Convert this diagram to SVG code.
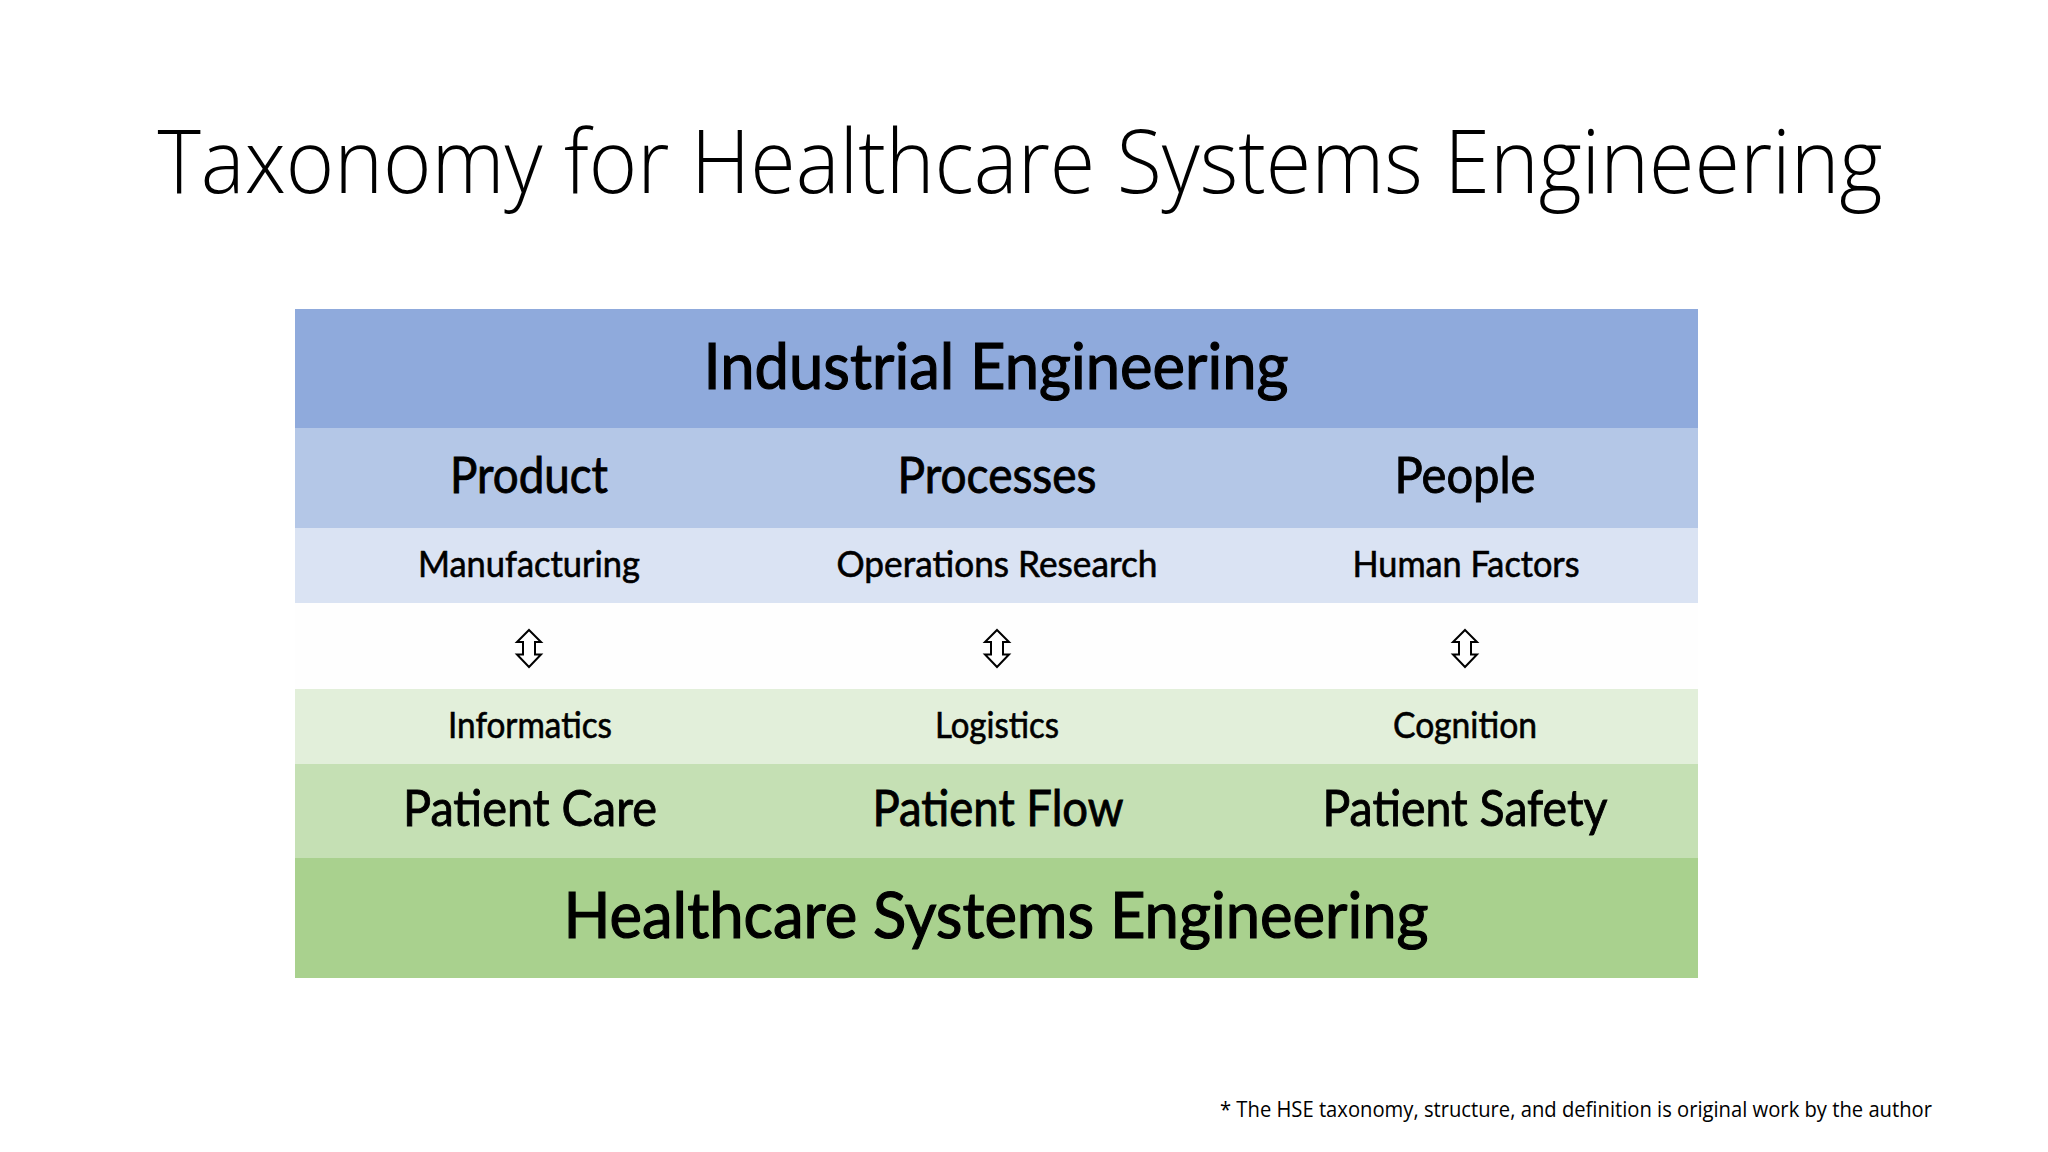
<svg xmlns="http://www.w3.org/2000/svg" width="2048" height="1152" viewBox="0 0 2048 1152">
<style>
.t{font-family:Lato,"DejaVu Sans",sans-serif;fill:#000;stroke:#000;stroke-width:0.9;text-anchor:middle}
.h1{font-size:64px;stroke-width:1.2}
.h2{font-size:50px}
.h3{font-size:36px;stroke-width:0.6}
.title{font-family:"Open Sans","Liberation Sans",sans-serif;font-weight:300;font-size:88px;fill:#000;text-anchor:middle}
.note{font-family:"Open Sans","Liberation Sans",sans-serif;font-size:22px;fill:#000}
.arr{fill:#fff;stroke:#000;stroke-width:2;stroke-linejoin:miter}
</style>
<defs>
<path id="ud" class="arr" d="M0,-18.5 L12,-6.5 L6,-6.5 L6,6 L12,6 L0,18.5 L-12,6 L-6,6 L-6,-6.5 L-12,-6.5 Z"/>
</defs>
<rect width="2048" height="1152" fill="#fff"/>
<text class="title" x="1020" y="193" textLength="1725" lengthAdjust="spacingAndGlyphs">Taxonomy for Healthcare Systems Engineering</text>

<g id="industrial-engineering">
<rect x="295" y="309" width="1403" height="119" fill="#8faadc"/>
<text class="t h1" x="996" y="389" textLength="585" lengthAdjust="spacingAndGlyphs">Industrial Engineering</text>
</g>
<g id="row-ie-pillars">
<rect x="295" y="428" width="1403" height="100" fill="#b4c7e7"/>
<g id="product"><text class="t h2" x="529" y="493" textLength="158" lengthAdjust="spacingAndGlyphs">Product</text></g>
<g id="processes"><text class="t h2" x="997" y="493" textLength="199" lengthAdjust="spacingAndGlyphs">Processes</text></g>
<g id="people"><text class="t h2" x="1465" y="493" textLength="141" lengthAdjust="spacingAndGlyphs">People</text></g>
</g>
<g id="row-ie-disciplines">
<rect x="295" y="528" width="1403" height="75" fill="#dae3f3"/>
<g id="manufacturing"><text class="t h3" x="529" y="577" textLength="222" lengthAdjust="spacingAndGlyphs">Manufacturing</text></g>
<g id="operations-research"><text class="t h3" x="997" y="577" textLength="321" lengthAdjust="spacingAndGlyphs">Operations Research</text></g>
<g id="human-factors"><text class="t h3" x="1466" y="577" textLength="227" lengthAdjust="spacingAndGlyphs">Human Factors</text></g>
</g>
<rect x="295" y="603" width="1403" height="86" fill="#fefefe"/>
<g id="connectors">
<use href="#ud" x="529" y="648.5"/>
<use href="#ud" x="997" y="648.5"/>
<use href="#ud" x="1465" y="648.5"/>
</g>
<g id="row-hse-disciplines">
<rect x="295" y="689" width="1403" height="75" fill="#e2efda"/>
<g id="informatics"><text class="t h3" x="530" y="738" textLength="164" lengthAdjust="spacingAndGlyphs">Informatics</text></g>
<g id="logistics"><text class="t h3" x="997" y="738" textLength="124" lengthAdjust="spacingAndGlyphs">Logistics</text></g>
<g id="cognition"><text class="t h3" x="1465" y="738" textLength="144" lengthAdjust="spacingAndGlyphs">Cognition</text></g>
</g>
<g id="row-hse-pillars">
<rect x="295" y="764" width="1403" height="94" fill="#c5e0b4"/>
<g id="patient-care"><text class="t h2" x="530" y="826" textLength="254" lengthAdjust="spacingAndGlyphs">Patient Care</text></g>
<g id="patient-flow"><text class="t h2" x="998" y="826" textLength="251" lengthAdjust="spacingAndGlyphs">Patient Flow</text></g>
<g id="patient-safety"><text class="t h2" x="1465" y="826" textLength="285" lengthAdjust="spacingAndGlyphs">Patient Safety</text></g>
</g>
<g id="healthcare-systems-engineering">
<rect x="295" y="858" width="1403" height="120" fill="#a9d18e"/>
<text class="t h1" x="996" y="938" textLength="865" lengthAdjust="spacingAndGlyphs">Healthcare Systems Engineering</text>
</g>
<text class="note" x="1220" y="1117" textLength="712" lengthAdjust="spacingAndGlyphs">* The HSE taxonomy, structure, and definition is original work by the author</text>
</svg>
